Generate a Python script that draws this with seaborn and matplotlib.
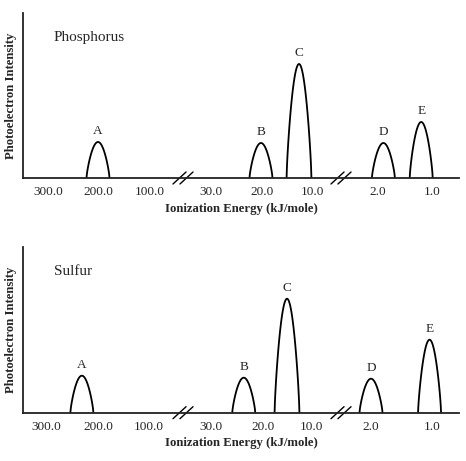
import numpy as np
import pandas as pd
import matplotlib
matplotlib.use("Agg")
import matplotlib.pyplot as plt
import seaborn as sns

# data
peak_labels = ["A", "B", "C", "D", "E"]
p_energy = [200.0, 20.2, 12.6, 1.9, 1.2]      # Phosphorus peak positions (kJ/mole scale as labelled)
p_height = [36, 35, 114, 35, 56]              # relative intensity
s_energy = [231.0, 23.7, 15.0, 2.0, 1.04]     # Sulfur
s_height = [37, 35, 114, 34, 73]

tick_values = [300.0, 200.0, 100.0, 30.0, 20.0, 10.0, 2.0, 1.0]
tick_labels = ["300.0", "200.0", "100.0", "30.0", "20.0", "10.0", "2.0", "1.0"]

# where each tick sits along the broken axis (axis fraction), per panel
p_tick_pos = np.array([25, 75, 127, 188, 239, 289, 355, 409]) / 436
s_tick_pos = np.array([23, 75, 126, 188, 240, 288, 348, 409]) / 436
break_pos = [160 / 436, 318 / 436]
half_width = 11.5 / 436

sns.set_theme(style="white")
plt.rcParams['font.family'] = ['Liberation Serif', 'DejaVu Serif']


def to_pos(e, tick_pos):
    # piecewise linear mapping inside each axis segment
    segs = [(0, 3), (3, 6), (6, 8)]
    for a, b in segs:
        vals = np.array(tick_values[a:b])
        if vals.min() - 1e-9 <= e <= vals.max() + 1e-9 or (a == 6 and e <= vals.max()):
            return float(np.interp(-e, -vals, tick_pos[a:b]))
    return float(np.interp(-e, -np.array(tick_values), tick_pos))


def spectrum(energies, heights, tick_pos):
    rows = []
    for lab, e, h in zip(peak_labels, energies, heights):
        c = to_pos(e, tick_pos)
        w = half_width * (1.08 if lab == "C" else 1.0)
        t = np.linspace(-1, 1, 81)
        y = h * np.cos(np.pi * t / 2) ** 0.75
        rows.append(pd.DataFrame({"x": c + w * t, "y": y, "peak": lab}))
    return pd.concat(rows, ignore_index=True)


fig = plt.figure(figsize=(4.66, 4.61), dpi=100)
panels = [
    ("Phosphorus", p_energy, p_height, p_tick_pos, [23 / 466, (461 - 178) / 461, 436 / 466, 165 / 461], 165),
    ("Sulfur", s_energy, s_height, s_tick_pos, [23 / 466, (461 - 412.7) / 461, 436 / 466, 166 / 461], 166),
]

for name, energies, heights, tick_pos, rect, ytop in panels:
    ax = fig.add_axes(rect)
    df = spectrum(energies, heights, tick_pos)
    sns.lineplot(data=df, x="x", y="y", units="peak", estimator=None, sort=False,
                 color="black", linewidth=1.3, ax=ax, legend=False)
    for lab, e, h in zip(peak_labels, energies, heights):
        ax.text(to_pos(e, tick_pos), h + 5, lab, ha="center", va="bottom", fontsize=9.5)
    ax.set_xlim(0, 1)
    ax.set_ylim(0, ytop)
    ax.set_xticks(tick_pos)
    ax.set_xticklabels(tick_labels, fontsize=9.5)
    ax.tick_params(axis="x", length=0, pad=6)
    ax.set_yticks([])
    ax.set_xlabel("Ionization Energy (kJ/mole)", fontsize=9.2, fontweight="bold", labelpad=3)
    ax.set_ylabel("Photoelectron Intensity", fontsize=9.2, fontweight="bold", labelpad=4)
    for side in ["top", "right"]:
        ax.spines[side].set_visible(False)
    for side in ["left", "bottom"]:
        ax.spines[side].set_color("#222222")
        ax.spines[side].set_linewidth(1.3)
    ax.text(0.07, 0.85, name, transform=ax.transAxes, fontsize=11, ha="left", va="center")
    # axis break marks
    for b in break_pos:
        for dx in (-0.008, 0.008):
            ax.plot([b + dx - 0.015, b + dx + 0.015], [-6, 6], color="black",
                    linewidth=1.0, clip_on=False, transform=ax.transData)

fig.savefig("out.png", dpi=100, facecolor="white")
